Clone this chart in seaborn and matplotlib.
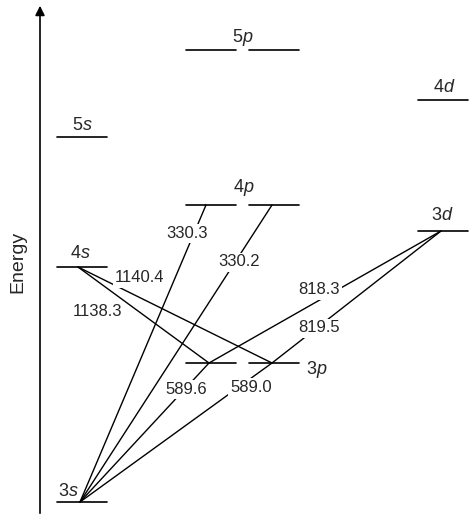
import matplotlib
matplotlib.use("Agg")
import matplotlib.pyplot as plt
import seaborn as sns
import pandas as pd

sns.set_style("white")
plt.rcParams['font.family'] = ['Liberation Sans', 'DejaVu Sans']
plt.rcParams['mathtext.fontset'] = 'custom'
plt.rcParams['mathtext.rm'] = 'Liberation Sans'
plt.rcParams['mathtext.it'] = 'Liberation Sans:italic'

# energy levels: name, x-start, x-end, y (pixel-like diagram coordinates)
level_names = ["3s", "3p", "3p", "4s", "4p", "4p", "3d", "5s", "5p", "5p", "4d"]
level_x0 = [57, 186, 249, 57, 186, 249, 418, 57, 186, 249, 418]
level_x1 = [107, 236, 299, 107, 236, 299, 468, 107, 236, 299, 468]
level_y = [502, 363, 363, 267, 205, 205, 231, 137, 50, 50, 100]
label_names = ["3s", "3p", "4s", "4p", "3d", "5s", "5p", "4d"]
label_x = [68, 317, 80, 244, 442, 82, 243, 444]
label_y = [492, 370, 254, 187, 215, 126, 37, 88]

# transitions (wavelengths, nm)
wavelengths = ["330.3", "330.2", "589.6", "589.0", "1138.3", "1140.4", "818.3", "819.5"]
tx0 = [80, 80, 80, 80, 78, 78, 441, 441]
ty0 = [502, 502, 502, 502, 267, 267, 231, 231]
tx1 = [206, 272, 209, 272, 209, 272, 209, 272]
ty1 = [205, 205, 363, 363, 363, 363, 363, 363]
wl_x = [187, 239, 186, 251, 98, 140, 319, 319]
wl_y = [233, 262, 389, 387, 311, 278, 290, 328]

fig = plt.figure(figsize=(4.74, 5.20), dpi=100)
ax = fig.add_axes([0, 0, 1, 1])

for x0, x1, y in zip(level_x0, level_x1, level_y):
    sns.lineplot(x=[x0, x1], y=[y, y], ax=ax, color="black", lw=1.2)
for x0, y0, x1, y1 in zip(tx0, ty0, tx1, ty1):
    sns.lineplot(data=pd.DataFrame({"x": [x0, x1], "y": [y0, y1]}), x="x", y="y",
                 ax=ax, color="black", lw=1.0, sort=False)
for n, x, y in zip(label_names, label_x, label_y):
    num, let = n[0], n[1]
    ax.text(x, y, f"{num}$\\it{{{let}}}$", fontsize=13, ha="center", va="center")
for w, x, y in zip(wavelengths, wl_x, wl_y):
    ax.text(x, y, w, fontsize=12, ha="center", va="center",
            bbox=dict(facecolor="white", edgecolor="none", pad=1.5))

ax.annotate("", xy=(40, 3), xytext=(40, 516),
            arrowprops=dict(arrowstyle="-|>", color="black", lw=1.2, mutation_scale=14))
ax.text(18, 262, "Energy", rotation=90, fontsize=14, ha="center", va="center")

ax.set_xlim(0, 474)
ax.set_ylim(520, 0)
ax.axis("off")
fig.savefig("out.png", dpi=100)
